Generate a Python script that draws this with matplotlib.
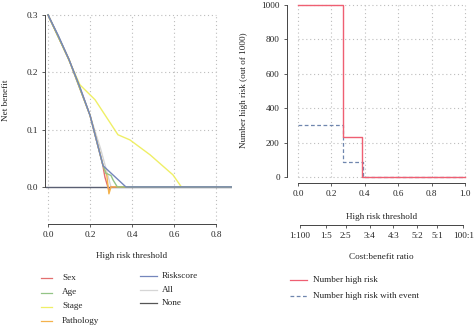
import matplotlib
matplotlib.use("Agg")
import matplotlib.pyplot as plt
from matplotlib.lines import Line2D

# decision curve (net benefit) data
sex_x = [0, 0.1, 0.2, 0.26, 0.271, 0.29, 0.30, 0.876]
sex_y = [0.3, 0.222, 0.125, 0.04, 0.017, -0.006, 0, 0]
age_x = [0, 0.1, 0.2, 0.26, 0.275, 0.30, 0.31, 0.33, 0.876]
age_y = [0.3, 0.222, 0.125, 0.04, 0.024, 0.02, 0.012, 0, 0]
stage_x = [0, 0.07, 0.152, 0.224, 0.333, 0.39, 0.486, 0.595, 0.635, 0.876]
stage_y = [0.3, 0.245, 0.178, 0.152, 0.091, 0.082, 0.056, 0.021, 0, 0]
path_x = [0, 0.1, 0.2, 0.26, 0.28, 0.29, 0.30, 0.876]
path_y = [0.3, 0.222, 0.125, 0.04, 0.02, -0.012, 0, 0]
risk_x = [0, 0.05, 0.1, 0.15, 0.2, 0.262, 0.371, 0.876]
risk_y = [0.3, 0.263, 0.222, 0.176, 0.125, 0.037, 0, 0]
all_x = [0, 0.05, 0.1, 0.15, 0.2, 0.25, 0.3]
all_y = [0.3, 0.263, 0.222, 0.176, 0.125, 0.067, 0]
none_x = [-0.01, 0.876]
none_y = [0, 0]

# clinical impact curve data
hr_x = [0, 0.272, 0.385, 1.0]
hr_n = [1000, 235, 0, 0]
ev_x = [0, 0.27, 0.39, 1.0]
ev_n = [300, 86, 0, 0]

cb_cost = [1, 1, 2, 3, 4, 5, 5, 100]
cb_benefit = [100, 5, 5, 4, 3, 2, 1, 1]
cb_labels = [f"{c}:{b}" for c, b in zip(cb_cost, cb_benefit)]
cb_pos = [c / (c + b) for c, b in zip(cb_cost, cb_benefit)]

plt.rcParams["font.family"] = ["Liberation Serif", "DejaVu Serif"]
fs = 6.6
txt = "#222222"
axc = "#444444"
gridc = "#bdbdbd"
dots = (0, (1, 2.5))

W, H = 474, 327
fig = plt.figure(figsize=(W / 100, H / 100), dpi=100)


def box(l, t, r, b):
    return [l / W, 1 - b / H, (r - l) / W, (b - t) / H]


def style(ax):
    for s in ["top", "right"]:
        ax.spines[s].set_visible(False)
    for s in ["left", "bottom"]:
        ax.spines[s].set_color(axc)
        ax.spines[s].set_linewidth(0.7)
    ax.tick_params(length=2.2, width=0.6, pad=3, labelsize=fs,
                   colors=axc, labelcolor=txt)
    ax.patch.set_visible(False)


# ---- left: net benefit
ax1 = fig.add_axes(box(45, 12, 232, 224))
style(ax1)
ax1.set_xlim(-0.0143, 0.876)
ax1.set_ylim(-0.0646, 0.305)
xt = [0, 0.2, 0.4, 0.6, 0.8]
yt = [0, 0.1, 0.2, 0.3]
ax1.vlines(xt, -0.057, 0.3, colors=gridc, linestyles=dots, lw=0.8, zorder=0)
ax1.hlines(yt[1:], 0, 0.8, colors=gridc, linestyles=dots, lw=0.8, zorder=0)
ax1.set_xticks(xt, [f"{v:.1f}" for v in xt])
ax1.set_yticks(yt, [f"{v:.1f}" for v in yt])
ax1.spines["bottom"].set_bounds(0, 0.8)
ax1.spines["left"].set_bounds(0, 0.3)

lw = 1.0
series = [
    ("All", all_x, all_y, "#d6d6d6"),
    ("None", none_x, none_y, "#5a5f72"),
    ("Stage", stage_x, stage_y, "#efef66"),
    ("Sex", sex_x, sex_y, "#e36f6f"),
    ("Pathology", path_x, path_y, "#f4b24c"),
    ("Age", age_x, age_y, "#93c486"),
    ("Riskscore", risk_x, risk_y, "#7486bc"),
]
cols = {}
for name, x, y, c in series:
    ax1.plot(x, y, color=c, lw=lw, zorder=2)
    cols[name] = c

fig.text(6 / W, 1 - 100 / H, "Net benefit", rotation=90, ha="center",
         va="center", fontsize=fs, color=txt)
fig.text(132 / W, 1 - 256 / H, "High risk threshold", ha="center",
         va="center", fontsize=fs, color=txt)


def legend_item(x0, x1, xt_, y, label, color, ls="-"):
    fig.add_artist(Line2D([x0 / W, x1 / W], [1 - y / H, 1 - y / H],
                          color=color, lw=0.9, ls=ls,
                          transform=fig.transFigure))
    fig.text(xt_ / W, 1 - y / H, label, ha="left", va="center",
             fontsize=fs, color=txt)


for name, y in zip(["Sex", "Age", "Stage", "Pathology"], [278, 292.5, 306.5, 321]):
    legend_item(41, 52, 62, y, name, cols[name])
for name, y in zip(["Riskscore", "All", "None"], [276, 289.5, 303]):
    legend_item(140, 157, 162, y, name, "#555555" if name == "None" else cols[name])

# ---- right: clinical impact
ax2 = fig.add_axes(box(287, 2, 470, 183))
style(ax2)
ax2.set_xlim(-0.066, 1.03)
ax2.set_ylim(-35, 1017)
xt2 = [0, 0.2, 0.4, 0.6, 0.8, 1.0]
yt2 = [0, 200, 400, 600, 800, 1000]
ax2.vlines(xt2, 0, 1000, colors=gridc, linestyles=dots, lw=0.8, zorder=0)
ax2.hlines(yt2, 0, 1, colors=gridc, linestyles=dots, lw=0.8, zorder=0)
ax2.set_xticks(xt2, [f"{v:.1f}" for v in xt2])
ax2.set_yticks(yt2, [str(v) for v in yt2])
ax2.spines["bottom"].set_bounds(0, 1)
ax2.spines["left"].set_bounds(0, 1000)
ax2.plot(hr_x, hr_n, drawstyle="steps-post", color="#ef5f72", lw=1.0, zorder=3)
ax2.plot(ev_x, ev_n, drawstyle="steps-post", color="#6f86ae", lw=0.9,
         ls=(0, (3, 2)), zorder=2)

fig.text(244 / W, 1 - 90 / H, "Number high risk (out of 1000)", rotation=90,
         ha="center", va="center", fontsize=fs, color=txt)
fig.text(382 / W, 1 - 217 / H, "High risk threshold", ha="center",
         va="center", fontsize=fs, color=txt)

ax3 = fig.add_axes(box(287, 224, 470, 224.5))
style(ax3)
ax3.spines["left"].set_visible(False)
ax3.set_xlim(ax2.get_xlim())
ax3.set_yticks([])
ax3.set_xticks(cb_pos, cb_labels)
ax3.spines["bottom"].set_bounds(cb_pos[0], cb_pos[-1])
fig.text(381 / W, 1 - 257 / H, "Cost:benefit ratio", ha="center",
         va="center", fontsize=fs, color=txt)

legend_item(290, 307, 313, 279.5, "Number high risk", "#ef5f72")
legend_item(290, 307, 313, 296, "Number high risk with event", "#6f86ae", ls=(0, (3, 2)))

fig.savefig("out.png", dpi=100)
